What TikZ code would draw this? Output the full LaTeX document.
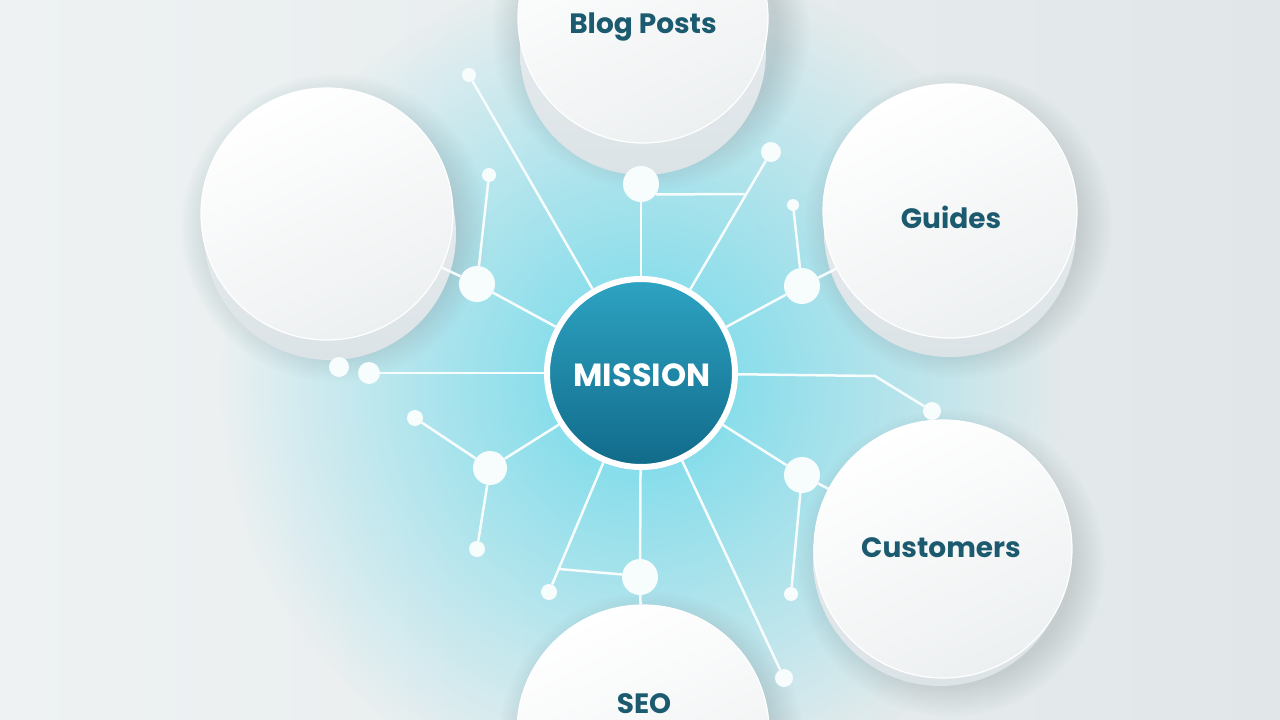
\documentclass[tikz,border=0pt]{standalone}
\usepackage{fontspec}
\newfontfamily\lblfont{Poppins}
\usetikzlibrary{calc,fadings}
\definecolor{bgL}{HTML}{EEF2F3}
\definecolor{bgR}{HTML}{E1E7E9}
\definecolor{glowc}{HTML}{62D8EA}
\definecolor{faceB}{HTML}{EDF0F1}
\definecolor{sideA}{HTML}{EAEFF1}
\definecolor{sideB}{HTML}{DCE3E6}
\definecolor{misA}{HTML}{2EA3C2}
\definecolor{misB}{HTML}{116A8A}
\definecolor{lblc}{HTML}{1C5B6F}
\definecolor{linec}{HTML}{F7FCFD}
\definecolor{shc}{HTML}{8A9CA4}
\tikzfading[name=glowfade, inner color=transparent!0, outer color=transparent!100]
\tikzset{
  discface/.style={circle, inner sep=0pt, minimum size=#1, shade, top color=white, bottom color=faceB, shading angle=25, draw=white, line width=1.2pt},
  discside/.style={top color=sideA, bottom color=sideB},
  lbltext/.style={anchor=base, inner sep=0pt, text=lblc, font=\lblfont\bfseries\fontsize{28}{34}\selectfont},
  netdot/.style={circle, fill=linec, inner sep=0pt, minimum size=#1},
  netline/.style={draw=linec, line width=2.5pt},
}
% soft shadow: centre, radius
\newcommand\softshadow[2]{%
  \foreach \k in {1,...,14}{\fill[shc, opacity=0.022] ($(#1)+(8,14)$) circle ({#2+\k*2.4pt});}%
}
\begin{document}
\begin{tikzpicture}[x=1pt,y=-1pt]
\useasboundingbox (0,0) rectangle (1280,720);
\begin{scope}
\clip (0,0) rectangle (1280,720);
\shade[left color=bgL, right color=bgR] (0,0) rectangle (1280,720);
\fill[glowc, path fading=glowfade, opacity=0.9] (641,385) circle (420pt);

% disc centres
\coordinate (cL) at (327,214);
\coordinate (cB) at (643,18);
\coordinate (cG) at (950,211);
\coordinate (cC) at (943,549);
\coordinate (cS) at (643,731);

% soft shadows
\softshadow{cL}{120pt}
\softshadow{cB}{125pt}
\softshadow{cG}{120pt}
\softshadow{cC}{120pt}
\softshadow{cS}{120pt}

% disc sides (thickness)
\shade[discside] ($(cL)+(3,20)$) circle (126pt);
\shade[discside] ($(cB)+(0,34)$) circle (123pt);
\shade[discside] ($(cG)+(0,20)$) circle (126pt);
\shade[discside] ($(cC)+(-3,10)$) circle (127pt);
\shade[discside] ($(cS)+(0,20)$) circle (126pt);

% disc faces
\node[discface=252pt] (left) at (cL) {};
\node[discface=250pt] (blog) at (cB) {};
\node[discface=254pt] (guides) at (cG) {};
\node[discface=258pt] (cust) at (cC) {};
\node[discface=252pt] (seo) at (cS) {};

% labels
\node[lbltext] (tBlog) at (643,34) {Blog Posts};
\node[lbltext] (tGuides) at (951,228) {Guides};
\node[lbltext] (tCust) at (941,557) {Customers};
\node[lbltext] (tSeo) at (644,713) {SEO};

% mission
\node[circle, inner sep=0pt, minimum size=188pt, top color=misA, bottom color=misB, draw=white, line width=6pt] (mission) at (641,373) {};
\node[anchor=base, inner sep=0pt, text=white, font=\lblfont\bfseries\fontsize{32}{36}\selectfont] (tMission) at (642,386) {MISSION};

% network dots
\node[netdot=36pt] (d1) at (641,184) {};
\node[netdot=20pt] (d2) at (771,152) {};
\node[netdot=14pt] (d3) at (469,75) {};
\node[netdot=36pt] (d4) at (477,284) {};
\node[netdot=14pt] (d4a) at (489,175) {};
\node[netdot=22pt] (d5) at (369,373) {};
\node[netdot=20pt] (d5b) at (339,367) {};
\node[netdot=34pt] (d6) at (490,468) {};
\node[netdot=16pt] (d6a) at (415,418) {};
\node[netdot=16pt] (d6b) at (477,549) {};
\node[netdot=16pt] (d7) at (549,592) {};
\node[netdot=36pt] (d8) at (640,577) {};
\node[netdot=18pt] (d9) at (784,678) {};
\node[netdot=36pt] (d10) at (802,475) {};
\node[netdot=14pt] (d10a) at (791,594) {};
\node[netdot=18pt] (d11) at (932,411) {};
\node[netdot=36pt] (d12) at (802,286) {};
\node[netdot=12pt] (d12a) at (793,205) {};

\coordinate (j2) at (745,194);
\coordinate (j7) at (559,569);
\coordinate (b11) at (875,376);

% connectors
\draw[netline] (mission) -- (d1);
\draw[netline] (d1.-35) -- (j2);
\draw[netline] (mission) -- (d2);
\draw[netline] (mission) -- (d3);
\draw[netline] (mission) -- (d4);
\draw[netline] (d4) -- (d4a);
\draw[netline] (d4) -- (left);
\draw[netline] (mission) -- (d5);
\draw[netline] (mission) -- (d6);
\draw[netline] (d6) -- (d6a);
\draw[netline] (d6) -- (d6b);
\draw[netline] (mission) -- (d7);
\draw[netline] (d8.172) -- (j7);
\draw[netline] (mission) -- (d8);
\draw[netline] (d8) -- (seo);
\draw[netline] (mission) -- (d9);
\draw[netline] (mission) -- (d10);
\draw[netline] (d10) -- (d10a);
\draw[netline] (d10) -- (cust);
\draw[netline] (mission) -- (b11) -- (d11);
\draw[netline] (mission) -- (d12);
\draw[netline] (d12) -- (d12a);
\draw[netline] (d12) -- (guides);
\end{scope}
\end{tikzpicture}
\end{document}
